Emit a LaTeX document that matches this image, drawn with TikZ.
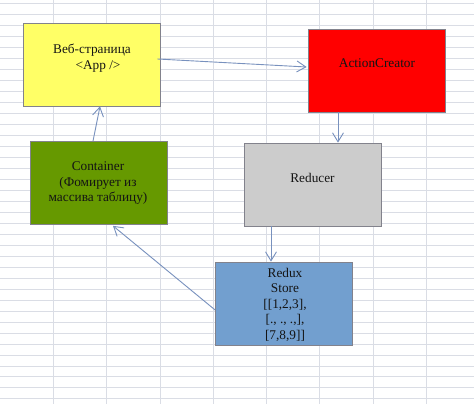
\documentclass[tikz,border=0pt]{standalone}
\usepackage{fontspec}
\setmainfont{Liberation Serif}
\usetikzlibrary{arrows.meta,calc}
\definecolor{gridc}{RGB}{218,221,229}
\definecolor{arrc}{RGB}{120,145,190}
\definecolor{boxedge}{RGB}{130,130,140}
\definecolor{yel}{RGB}{255,255,102}
\definecolor{gre}{RGB}{102,153,0}
\definecolor{gry}{RGB}{204,204,204}
\definecolor{blu}{RGB}{114,159,207}
\definecolor{txtc}{RGB}{20,20,20}
\tikzset{
  box/.style={draw=boxedge, line width=0.7pt, minimum width=137pt, minimum height=83pt, inner sep=0pt},
  txt/.style={text=txtc, align=center, inner sep=0pt, font=\fontsize{13.3}{15.5}\selectfont},
  conn/.style={draw=arrc, line width=0.9pt, -{Straight Barb[length=9pt,width=11pt,line width=0.9pt]}}
}
\begin{document}
\begin{tikzpicture}[x=1pt,y=-1pt]
\useasboundingbox (0,0) rectangle (474,404);
\fill[white] (0,0) rectangle (474,404);
% grid
\foreach \k in {0,...,36} {
  \draw[gridc, line width=1pt] (0,{4+10.97*\k}) -- (474,{4+10.97*\k});
}
\foreach \k in {1,...,8} {
  \draw[gridc, line width=0.8pt] ({53.3*\k},0) -- ({53.3*\k},404);
}
% boxes
\node[box, fill=yel] (web) at (91.5,64.5) {};
\node[box, fill=red] (ac) at (376.5,70.5) {};
\node[box, fill=gry] (red) at (312.5,184.5) {};
\node[box, fill=gre] (cont) at (98.5,183) {};
\node[box, fill=blu] (store) at (284,303.5) {};
% texts
\node[txt] (webt) at (92,58) {Веб-страница\\\hspace*{12pt}<App />};
\node[txt] (act) at (377,63.5) {ActionCreator};
\node[txt] (redt) at (312.5,177.5) {Reducer};
\node[txt] (contt) at (98,183.5) {Container\\(Фомирует из\\массива таблицу)};
\node[txt] (storet) at (285,304.5) {Redux\\Store\\{[}[1,2,3],\\{[}., ., .,],\\{[}7,8,9]]};
% connectors
\draw[conn] ($(web.east)+(-3,-5.5)$) -- ($(ac.west)+(-1,-3.5)$);
\draw[conn] ($(cont.north)+(-5.5,0)$) -- ($(web.south)+(8.5,0)$);
\draw[conn] ($(ac.south)+(-38.5,0)$) -- ($(red.north)+(25.5,0)$);
\draw[conn] ($(red.south)+(-41.5,0)$) -- ($(store.north)+(-13,0)$);
\draw[conn] ($(store.west)+(0,6.5)$) -- ($(cont.south)+(14.5,1)$);
\end{tikzpicture}
\end{document}
